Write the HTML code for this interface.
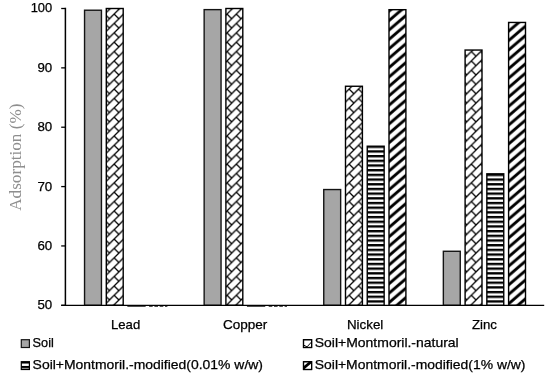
<!DOCTYPE html>
<html lang="en">
<head>
<meta charset="utf-8">
<title>Adsorption chart</title>
<style>
html,body{margin:0;padding:0;background:#fff;}
body{width:550px;height:377px;overflow:hidden;}
svg{display:block;}
text{font-family:"Liberation Sans",sans-serif;fill:#000;stroke:#000;stroke-width:0.25px;}
.ser{font-family:"Liberation Serif",serif;fill:#8e8e8e;stroke:none;}
</style>
</head>
<body>
<svg width="550" height="377" viewBox="0 0 550 377">
<defs>
<pattern id="brick" width="9.4" height="9.375" patternUnits="userSpaceOnUse" patternTransform="translate(6.06,-0.01)"><rect width="9.4" height="9.375" fill="#fff"/><path d="M-9.400 9.375L18.800 -18.750M-9.400 18.750L18.800 -9.375M-9.400 28.125L18.800 0.000M4.700 4.688L9.400 9.375" stroke="#000" stroke-width="1.3" fill="none"/></pattern>
<pattern id="wdiag" width="11.0" height="9.4" patternUnits="userSpaceOnUse" patternTransform="translate(4.80,1.10)"><rect width="11.0" height="9.4" fill="#fff"/><path d="M-11.000 7.500L22.000 -20.700L22.000 -16.900L-11.000 11.300ZM-11.000 16.900L22.000 -11.300L22.000 -7.500L-11.000 20.700ZM-11.000 26.300L22.000 -1.900L22.000 1.900L-11.000 30.100Z" fill="#000"/></pattern>
<pattern id="hstripe" width="4.6875" height="4.6875" patternUnits="userSpaceOnUse" patternTransform="translate(0,0.30)"><rect width="4.6875" height="4.6875" fill="#fff"/><rect width="4.6875" height="2.35" fill="#000"/></pattern>
</defs>
<rect width="550" height="377" fill="#fff"/>

<g stroke-width="1.4">
<rect x="84.55" y="10.22" width="16.90" height="295.08" fill="#a6a6a6" stroke="#141414"/>
<rect x="106.30" y="8.50" width="16.90" height="296.80" fill="url(#brick)" stroke="#000"/>
<line x1="127.35" y1="306.20" x2="145.65" y2="306.20" stroke="#000" stroke-width="1"/>
<line x1="149.10" y1="306.20" x2="167.40" y2="306.20" stroke="#000" stroke-width="1" stroke-dasharray="3.6 1.7"/>
<rect x="204.15" y="9.63" width="16.90" height="295.67" fill="#a6a6a6" stroke="#141414"/>
<rect x="225.90" y="8.50" width="16.90" height="296.80" fill="url(#brick)" stroke="#000"/>
<line x1="246.95" y1="306.20" x2="265.25" y2="306.20" stroke="#000" stroke-width="1"/>
<line x1="268.70" y1="306.20" x2="287.00" y2="306.20" stroke="#000" stroke-width="1" stroke-dasharray="3.6 1.7"/>
<rect x="323.75" y="189.55" width="16.90" height="115.75" fill="#a6a6a6" stroke="#141414"/>
<rect x="345.50" y="86.26" width="16.90" height="219.04" fill="url(#brick)" stroke="#000"/>
<rect x="367.25" y="146.22" width="16.90" height="159.08" fill="url(#hstripe)" stroke="#000"/>
<rect x="389.00" y="9.69" width="16.90" height="295.61" fill="url(#wdiag)" stroke="#000"/>
<rect x="443.35" y="251.28" width="16.90" height="54.02" fill="#a6a6a6" stroke="#141414"/>
<rect x="465.10" y="50.05" width="16.90" height="255.25" fill="url(#brick)" stroke="#000"/>
<rect x="486.85" y="173.82" width="16.90" height="131.48" fill="url(#hstripe)" stroke="#000"/>
<rect x="508.60" y="22.45" width="16.90" height="282.85" fill="url(#wdiag)" stroke="#000"/>
</g>
<g stroke="#000" stroke-width="1.5" fill="none">
<line x1="65.40" y1="7.75" x2="65.40" y2="305.95"/>
<line x1="61.2" y1="8.50" x2="65.40" y2="8.50" stroke-width="1.3"/>
<line x1="61.2" y1="67.86" x2="65.40" y2="67.86" stroke-width="1.3"/>
<line x1="61.2" y1="127.22" x2="65.40" y2="127.22" stroke-width="1.3"/>
<line x1="61.2" y1="186.58" x2="65.40" y2="186.58" stroke-width="1.3"/>
<line x1="61.2" y1="245.94" x2="65.40" y2="245.94" stroke-width="1.3"/>
<line x1="61.2" y1="305.30" x2="65.40" y2="305.30" stroke-width="1.3"/>
<line x1="61.2" y1="305.30" x2="544.2" y2="305.30" stroke-width="1.3"/>
</g>
<g font-size="12.6" text-anchor="end">
<text x="52.2" y="12.45" textLength="21.5" lengthAdjust="spacingAndGlyphs">100</text>
<text x="52.2" y="71.81" textLength="14.8" lengthAdjust="spacingAndGlyphs">90</text>
<text x="52.2" y="131.17" textLength="14.8" lengthAdjust="spacingAndGlyphs">80</text>
<text x="52.2" y="190.53" textLength="14.8" lengthAdjust="spacingAndGlyphs">70</text>
<text x="52.2" y="249.89" textLength="14.8" lengthAdjust="spacingAndGlyphs">60</text>
<text x="52.2" y="309.25" textLength="14.8" lengthAdjust="spacingAndGlyphs">50</text>
</g>
<text class="ser" font-size="17" transform="translate(21,210.8) rotate(-90)" textLength="107.2" lengthAdjust="spacingAndGlyphs">Adsorption (%)</text>
<g font-size="12.8">
<text x="111.0" y="328.5" textLength="29.2" lengthAdjust="spacingAndGlyphs">Lead</text>
<text x="222.9" y="328.5" textLength="44.4" lengthAdjust="spacingAndGlyphs">Copper</text>
<text x="346.9" y="328.5" textLength="36.4" lengthAdjust="spacingAndGlyphs">Nickel</text>
<text x="472.0" y="328.5" textLength="25.0" lengthAdjust="spacingAndGlyphs">Zinc</text>
</g>
<g stroke="#000" stroke-width="1.2">
<rect x="21.3" y="339.7" width="8.1" height="7.8" fill="#a6a6a6" stroke="#141414"/>
<rect x="21.3" y="361.7" width="8.1" height="7.8" fill="url(#hstripe)"/>
<rect x="303.5" y="339.7" width="8.1" height="7.8" fill="#fff"/>
<svg x="303.5" y="339.7" width="8.1" height="7.8" viewBox="303.5 339.7 8.1 7.8"><path d="M303.2 344.8L307 346.9L311.9 341.6" fill="none" stroke="#000" stroke-width="1"/></svg>
<rect x="303.5" y="339.7" width="8.1" height="7.8" fill="none"/>
<rect x="303.5" y="361.7" width="8.1" height="7.8" fill="#fff"/>
<svg x="303.5" y="361.7" width="8.1" height="7.8" viewBox="303.5 361.7 8.1 7.8"><path d="M301.5 368.1L313.5 357.9L313.5 361.5L301.5 371.7Z" fill="#000" stroke="none"/></svg>
<rect x="303.5" y="361.7" width="8.1" height="7.8" fill="none"/>
</g>
<g font-size="12.8">
<text x="32.6" y="347.3" textLength="21.2" lengthAdjust="spacingAndGlyphs">Soil</text>
<text x="32.6" y="369.3" textLength="230.4" lengthAdjust="spacingAndGlyphs">Soil+Montmoril.-modified(0.01% w/w)</text>
<text x="314.8" y="347.3" textLength="143.9" lengthAdjust="spacingAndGlyphs">Soil+Montmoril.-natural</text>
<text x="314.8" y="369.3" textLength="210.7" lengthAdjust="spacingAndGlyphs">Soil+Montmoril.-modified(1% w/w)</text>
</g>
</svg>
</body>
</html>
